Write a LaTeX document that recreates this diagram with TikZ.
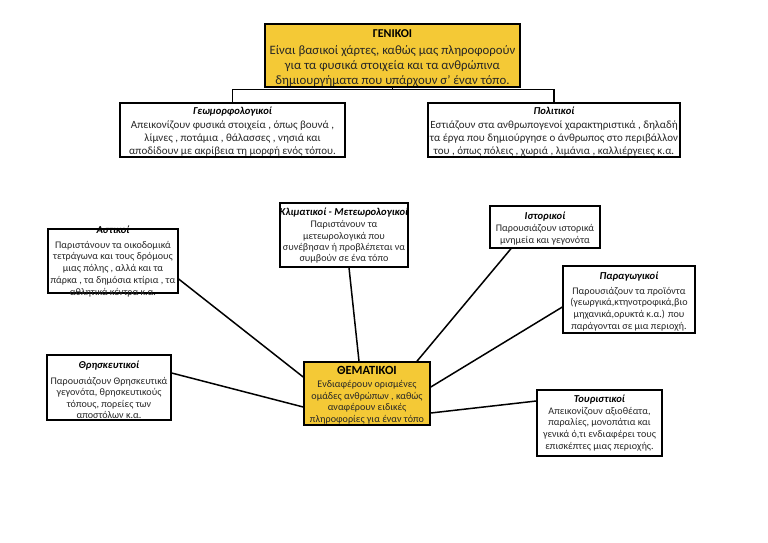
\documentclass[tikz,border=0pt]{standalone}
\usepackage{fontspec}
\setmainfont{Carlito}
\usetikzlibrary{calc}
\definecolor{themeyellow}{HTML}{F4C936}
\definecolor{bodytext}{HTML}{262626}
\tikzset{
  ybox/.style={draw, line width=1.6pt, fill=themeyellow, inner sep=0pt},
  wbox/.style={draw, line width=1.3pt, fill=white, inner sep=0pt},
  txt/.style={align=center, inner sep=0pt, text=bodytext, font=\fontsize{10.1}{11.8}\selectfont},
  bigtxt/.style={align=center, inner sep=0pt, text=bodytext, font=\fontsize{12.8}{15}\selectfont},
  midtxt/.style={align=center, inner sep=0pt, text=bodytext, font=\fontsize{11}{13}\selectfont},
  conn/.style={line width=1.5pt, draw=black},
}
\newcommand{\ttl}[1]{{\color{black}\bfseries\itshape\fontsize{10.6}{12}\selectfont #1}}
\begin{document}
\begin{tikzpicture}[x=1pt,y=-1pt]
\useasboundingbox[fill=white] (0,0) rectangle (768,543);
% frames
\node[ybox, minimum width=255pt, minimum height=63pt] (gen) at (392.5,55.5) {};
\node[wbox, minimum width=225pt, minimum height=54pt] (geo) at (232.5,130) {};
\node[wbox, minimum width=252pt, minimum height=54pt] (pol) at (554,130) {};
\node[wbox, minimum width=130pt, minimum height=64pt] (ast) at (113,261) {};
\node[wbox, minimum width=128pt, minimum height=64pt] (kli) at (344,235) {};
\node[wbox, minimum width=110pt, minimum height=42pt] (ist) at (545,227) {};
\node[wbox, minimum width=132pt, minimum height=67pt] (par) at (629,299.5) {};
\node[wbox, minimum width=124pt, minimum height=65pt] (thr) at (109,387.5) {};
\node[ybox, minimum width=126pt, minimum height=63pt] (them) at (367,393.5) {};
\node[wbox, minimum width=125pt, minimum height=66pt] (tou) at (599.5,423) {};
% tree connectors
\coordinate (j) at ([yshift=-1.5pt]gen.south);
\draw[conn] (geo.north) |- (j) -| (pol.north);
\draw[conn] (gen.south) -- (j);
% spokes
\draw[conn] ([yshift=-18pt]ast.east) -- ([yshift=16.5pt]them.west);
\draw[conn] ([xshift=5pt]kli.south) -- ([xshift=-8pt]them.north);
\draw[conn] ([xshift=-34pt]ist.south) -- ([xshift=50pt]them.north);
\draw[conn] ([yshift=-7.5pt]par.west) -- ([yshift=6.5pt]them.east);
\draw[conn] ([yshift=14.5pt]thr.east) -- ([yshift=-13.5pt]them.west);
\draw[conn] ([yshift=22pt]tou.west) -- ([yshift=-19.5pt]them.east);
% texts
\node[bigtxt] (gen-t) at ([yshift=-2.5pt]gen.center) {{\color{black}\bfseries\fontsize{12}{14}\selectfont ΓΕΝΙΚΟΙ}\\[2.5pt]
Είναι βασικοί χάρτες, καθώς μας πληροφορούν\\
για τα φυσικά στοιχεία και τα ανθρώπινα\\
δημιουργήματα που υπάρχουν σ’ έναν τόπο.};
\node[midtxt] (geo-t) at ([yshift=-1.5pt]geo.center) {\ttl{Γεωμορφολογικοί}\\[1pt]
Απεικονίζουν φυσικά στοιχεία , όπως βουνά ,\\
λίμνες , ποτάμια , θάλασσες , νησιά και\\
αποδίδουν με ακρίβεια τη μορφή ενός τόπου.};
\node[midtxt] (pol-t) at ([yshift=-1.5pt]pol.center) {\ttl{Πολιτικοί}\\[1pt]
Εστιάζουν στα ανθρωπογενοί χαρακτηριστικά , δηλαδή\\
τα έργα που δημιούργησε ο άνθρωπος στο περιβάλλον\\
του , όπως πόλεις , χωριά , λιμάνια , καλλιέργειες κ.α.};
\node[txt] (ast-t) at ([yshift=-0.5pt]ast.center) {\ttl{Αστικοί}\\[2.5pt]
Παριστάνουν τα οικοδομικά\\
τετράγωνα και τους δρόμους\\
μιας πόλης , αλλά και τα\\
πάρκα , τα δημόσια κτίρια , τα\\
αθλητικά κέντρα κ.α.};
\node[txt, font=\fontsize{10.1}{11.2}\selectfont] (kli-t) at ([yshift=-0.5pt]kli.center) {\ttl{Κλιματικοί - Μετεωρολογικοί}\\[1.5pt]
Παριστάνουν τα\\
μετεωρολογικά που\\
συνέβησαν ή προβλέπεται να\\
συμβούν σε ένα τόπο};
\node[txt] (ist-t) at ([yshift=-1.5pt]ist.center) {\ttl{Ιστορικοί}\\[0pt]
Παρουσιάζουν ιστορικά\\
μνημεία και γεγονότα};
\node[txt] (par-t) at ([yshift=-2pt]par.center) {\ttl{Παραγωγικοί}\\[3pt]
Παρουσιάζουν τα προϊόντα\\
(γεωργικά,κτηνοτροφικά,βιο\\
μηχανικά,ορυκτά κ.α.) που\\
παράγονται σε μια περιοχή.};
\node[txt, font=\fontsize{10.1}{11.5}\selectfont] (thr-t) at ([yshift=-2.5pt]thr.center) {\ttl{Θρησκευτικοί}\\[4pt]
Παρουσιάζουν Θρησκευτικά\\
γεγονότα, θρησκευτικούς\\
τόπους, πορείες των\\
αποστόλων κ.α.};
\node[txt, font=\fontsize{10.1}{11.6}\selectfont] (them-t) at ([yshift=-1.5pt]them.center) {{\color{black}\bfseries\fontsize{12.5}{13}\selectfont ΘΕΜΑΤΙΚΟΙ}\\[1.5pt]
Ενδιαφέρουν ορισμένες\\
ομάδες ανθρώπων , καθώς\\
αναφέρουν ειδικές\\
πληροφορίες για έναν τόπο};
\node[txt] (tou-t) at ([yshift=0pt]tou.center) {\ttl{Τουριστικοί}\\[0pt]
Απεικονίζουν αξιοθέατα,\\
παραλίες, μονοπάτια και\\
γενικά ό,τι ενδιαφέρει τους\\
επισκέπτες μιας περιοχής.};
\end{tikzpicture}
\end{document}
